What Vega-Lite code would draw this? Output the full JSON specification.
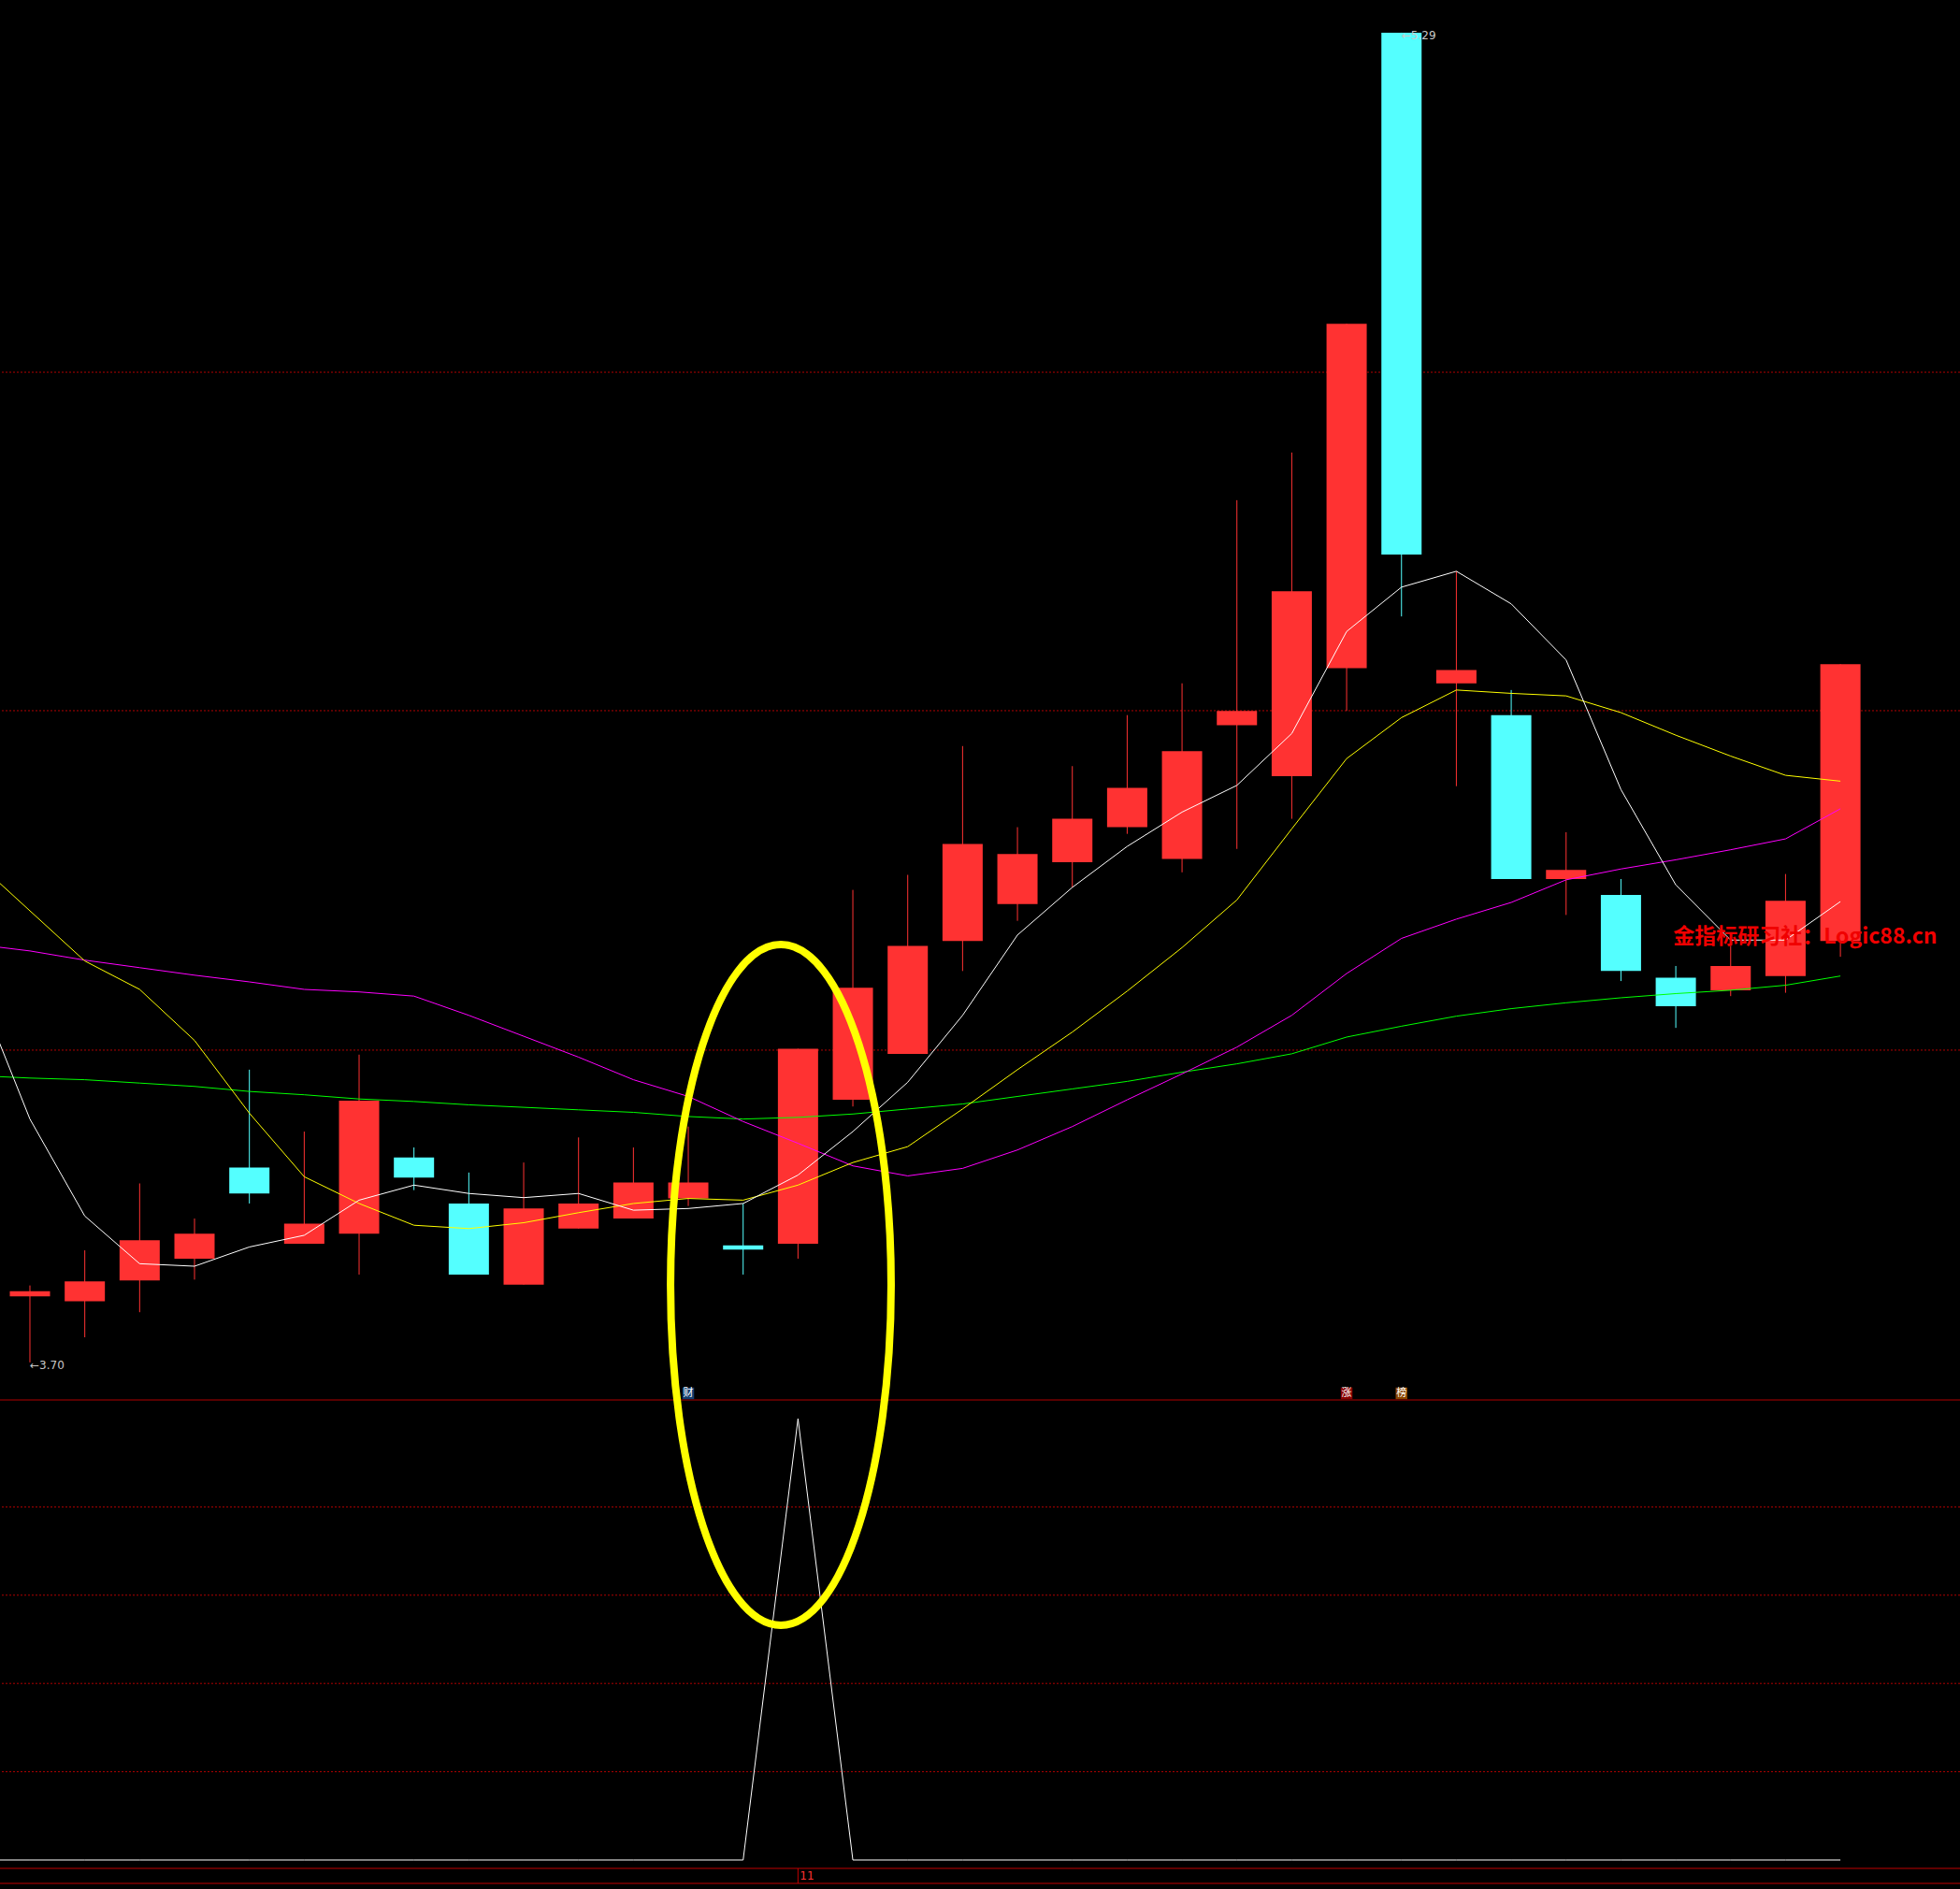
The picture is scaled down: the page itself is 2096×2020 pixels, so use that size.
{
  "$schema": "https://vega.github.io/schema/vega-lite/v6.json",
  "width": 2096,
  "height": 2020,
  "autosize": {"type": "none"},
  "padding": 0,
  "background": "#000000",
  "config": {"view": {"stroke": null}, "scale": {"continuousPadding": 0}},
  "datasets": {
    "candles": [
      {"i": 0, "o": 3.779, "h": 3.792, "l": 3.700, "c": 3.785},
      {"i": 1, "o": 3.773, "h": 3.834, "l": 3.730, "c": 3.797},
      {"i": 2, "o": 3.798, "h": 3.914, "l": 3.760, "c": 3.846},
      {"i": 3, "o": 3.824, "h": 3.872, "l": 3.799, "c": 3.854},
      {"i": 4, "o": 3.933, "h": 4.050, "l": 3.890, "c": 3.902},
      {"i": 5, "o": 3.842, "h": 3.976, "l": 3.842, "c": 3.866},
      {"i": 6, "o": 3.854, "h": 4.068, "l": 3.805, "c": 4.013},
      {"i": 7, "o": 3.945, "h": 3.957, "l": 3.906, "c": 3.921},
      {"i": 8, "o": 3.890, "h": 3.927, "l": 3.805, "c": 3.805},
      {"i": 9, "o": 3.793, "h": 3.939, "l": 3.793, "c": 3.884},
      {"i": 10, "o": 3.860, "h": 3.969, "l": 3.860, "c": 3.890},
      {"i": 11, "o": 3.872, "h": 3.957, "l": 3.872, "c": 3.915},
      {"i": 12, "o": 3.896, "h": 3.982, "l": 3.887, "c": 3.915},
      {"i": 13, "o": 3.840, "h": 3.890, "l": 3.805, "c": 3.835},
      {"i": 14, "o": 3.842, "h": 4.075, "l": 3.824, "c": 4.075},
      {"i": 15, "o": 4.014, "h": 4.265, "l": 4.006, "c": 4.148},
      {"i": 16, "o": 4.069, "h": 4.283, "l": 4.069, "c": 4.198},
      {"i": 17, "o": 4.204, "h": 4.437, "l": 4.168, "c": 4.320},
      {"i": 18, "o": 4.248, "h": 4.340, "l": 4.228, "c": 4.308},
      {"i": 19, "o": 4.298, "h": 4.413, "l": 4.268, "c": 4.350},
      {"i": 20, "o": 4.340, "h": 4.474, "l": 4.332, "c": 4.387},
      {"i": 21, "o": 4.302, "h": 4.512, "l": 4.286, "c": 4.431},
      {"i": 22, "o": 4.462, "h": 4.731, "l": 4.314, "c": 4.479},
      {"i": 23, "o": 4.401, "h": 4.788, "l": 4.350, "c": 4.622},
      {"i": 24, "o": 4.530, "h": 4.942, "l": 4.479, "c": 4.942},
      {"i": 25, "o": 5.290, "h": 5.290, "l": 4.592, "c": 4.666},
      {"i": 26, "o": 4.512, "h": 4.646, "l": 4.389, "c": 4.528},
      {"i": 27, "o": 4.474, "h": 4.504, "l": 4.278, "c": 4.278},
      {"i": 28, "o": 4.278, "h": 4.334, "l": 4.235, "c": 4.289},
      {"i": 29, "o": 4.259, "h": 4.278, "l": 4.156, "c": 4.168},
      {"i": 30, "o": 4.160, "h": 4.174, "l": 4.100, "c": 4.126},
      {"i": 31, "o": 4.145, "h": 4.198, "l": 4.138, "c": 4.174},
      {"i": 32, "o": 4.162, "h": 4.284, "l": 4.142, "c": 4.252},
      {"i": 33, "o": 4.204, "h": 4.535, "l": 4.185, "c": 4.535}
    ],
    "ma": [
      {"i": -1, "ma5": 4.155, "ma10": 4.300, "ma20": 4.200, "ma60": 4.043, "sig": 0},
      {"i": 0, "ma5": 3.991, "ma10": 4.240, "ma20": 4.192, "ma60": 4.040, "sig": 0},
      {"i": 1, "ma5": 3.875, "ma10": 4.180, "ma20": 4.181, "ma60": 4.038, "sig": 0},
      {"i": 2, "ma5": 3.818, "ma10": 4.146, "ma20": 4.172, "ma60": 4.034, "sig": 0},
      {"i": 3, "ma5": 3.815, "ma10": 4.085, "ma20": 4.163, "ma60": 4.030, "sig": 0},
      {"i": 4, "ma5": 3.838, "ma10": 3.998, "ma20": 4.155, "ma60": 4.024, "sig": 0},
      {"i": 5, "ma5": 3.852, "ma10": 3.922, "ma20": 4.146, "ma60": 4.020, "sig": 0},
      {"i": 6, "ma5": 3.894, "ma10": 3.890, "ma20": 4.143, "ma60": 4.015, "sig": 0},
      {"i": 7, "ma5": 3.912, "ma10": 3.864, "ma20": 4.138, "ma60": 4.012, "sig": 0},
      {"i": 8, "ma5": 3.902, "ma10": 3.860, "ma20": 4.115, "ma60": 4.008, "sig": 0},
      {"i": 9, "ma5": 3.897, "ma10": 3.867, "ma20": 4.090, "ma60": 4.005, "sig": 0},
      {"i": 10, "ma5": 3.902, "ma10": 3.879, "ma20": 4.065, "ma60": 4.002, "sig": 0},
      {"i": 11, "ma5": 3.882, "ma10": 3.890, "ma20": 4.038, "ma60": 3.999, "sig": 0},
      {"i": 12, "ma5": 3.884, "ma10": 3.896, "ma20": 4.018, "ma60": 3.994, "sig": 0},
      {"i": 13, "ma5": 3.890, "ma10": 3.894, "ma20": 3.988, "ma60": 3.991, "sig": 0},
      {"i": 14, "ma5": 3.924, "ma10": 3.912, "ma20": 3.962, "ma60": 3.993, "sig": 1},
      {"i": 15, "ma5": 3.976, "ma10": 3.939, "ma20": 3.935, "ma60": 3.997, "sig": 0},
      {"i": 16, "ma5": 4.035, "ma10": 3.958, "ma20": 3.923, "ma60": 4.003, "sig": 0},
      {"i": 17, "ma5": 4.115, "ma10": 4.003, "ma20": 3.932, "ma60": 4.009, "sig": 0},
      {"i": 18, "ma5": 4.211, "ma10": 4.050, "ma20": 3.954, "ma60": 4.018, "sig": 0},
      {"i": 19, "ma5": 4.268, "ma10": 4.095, "ma20": 3.982, "ma60": 4.027, "sig": 0},
      {"i": 20, "ma5": 4.317, "ma10": 4.144, "ma20": 4.014, "ma60": 4.036, "sig": 0},
      {"i": 21, "ma5": 4.358, "ma10": 4.196, "ma20": 4.045, "ma60": 4.047, "sig": 0},
      {"i": 22, "ma5": 4.390, "ma10": 4.253, "ma20": 4.077, "ma60": 4.057, "sig": 0},
      {"i": 23, "ma5": 4.452, "ma10": 4.338, "ma20": 4.115, "ma60": 4.069, "sig": 0},
      {"i": 24, "ma5": 4.574, "ma10": 4.422, "ma20": 4.165, "ma60": 4.089, "sig": 0},
      {"i": 25, "ma5": 4.627, "ma10": 4.471, "ma20": 4.207, "ma60": 4.102, "sig": 0},
      {"i": 26, "ma5": 4.646, "ma10": 4.504, "ma20": 4.230, "ma60": 4.114, "sig": 0},
      {"i": 27, "ma5": 4.607, "ma10": 4.500, "ma20": 4.250, "ma60": 4.123, "sig": 0},
      {"i": 28, "ma5": 4.540, "ma10": 4.497, "ma20": 4.277, "ma60": 4.130, "sig": 0},
      {"i": 29, "ma5": 4.385, "ma10": 4.477, "ma20": 4.290, "ma60": 4.136, "sig": 0},
      {"i": 30, "ma5": 4.271, "ma10": 4.450, "ma20": 4.301, "ma60": 4.141, "sig": 0},
      {"i": 31, "ma5": 4.205, "ma10": 4.425, "ma20": 4.313, "ma60": 4.145, "sig": 0},
      {"i": 32, "ma5": 4.205, "ma10": 4.402, "ma20": 4.326, "ma60": 4.151, "sig": 0},
      {"i": 33, "ma5": 4.251, "ma10": 4.395, "ma20": 4.362, "ma60": 4.162, "sig": 0}
    ],
    "extremes": [
      {"i": 0, "p": 3.70, "t": "←3.70"},
      {"i": 25, "p": 5.29, "t": "←5.29"}
    ],
    "badges": [
      {"i": 12, "t": "财"},
      {"i": 24, "t": "涨"},
      {"i": 25, "t": "榜"}
    ],
    "dates": [
      {"i": 14, "t": "11"}
    ],
    "one": [{}]
  },
  "layer": [
    {
      "layer": [
        {"data": {"name": "one"}, "mark": {"type": "rule", "color": "#b00000", "strokeWidth": 1, "strokeDash": [2, 2]},
         "encoding": {"y": {"datum": 4.884, "type": "quantitative", "scale": {"domain": [3.0703, 5.3291], "nice": false, "zero": false}, "axis": null}}},
        {"data": {"name": "one"}, "mark": {"type": "rule", "color": "#b00000", "strokeWidth": 1, "strokeDash": [2, 2]},
         "encoding": {"y": {"datum": 4.4793, "type": "quantitative", "scale": {"domain": [3.0703, 5.3291], "nice": false, "zero": false}, "axis": null}}},
        {"data": {"name": "one"}, "mark": {"type": "rule", "color": "#b00000", "strokeWidth": 1, "strokeDash": [2, 2]},
         "encoding": {"y": {"datum": 4.0734, "type": "quantitative", "scale": {"domain": [3.0703, 5.3291], "nice": false, "zero": false}, "axis": null}}},
        {"data": {"name": "one"}, "mark": {"type": "rule", "color": "#b00000", "strokeWidth": 1},
         "encoding": {"y": {"datum": 3.6551, "type": "quantitative", "scale": {"domain": [3.0703, 5.3291], "nice": false, "zero": false}, "axis": null}}},
        {"data": {"name": "candles"}, "mark": {"type": "rule", "strokeWidth": 1},
         "encoding": {
           "x": {"field": "i", "type": "quantitative", "scale": {"domain": [-0.5454, 35.18], "nice": false, "zero": false, "padding": 0}, "axis": null},
           "y": {"field": "l", "type": "quantitative", "scale": {"domain": [3.0703, 5.3291], "nice": false, "zero": false}, "axis": null},
           "y2": {"field": "h"},
           "color": {"condition": {"test": "datum.c >= datum.o", "value": "#ff3232"}, "value": "#54ffff"}
         }},
        {"data": {"name": "candles"}, "mark": {"type": "bar", "size": 43},
         "encoding": {
           "x": {"field": "i", "type": "quantitative", "scale": {"domain": [-0.5454, 35.18], "nice": false, "zero": false, "padding": 0}, "axis": null},
           "y": {"field": "o", "type": "quantitative", "scale": {"domain": [3.0703, 5.3291], "nice": false, "zero": false}, "axis": null},
           "y2": {"field": "c"},
           "color": {"condition": {"test": "datum.c >= datum.o", "value": "#ff3232"}, "value": "#54ffff"}
         }},
        {"data": {"name": "ma"}, "mark": {"type": "line", "color": "#00ff00", "strokeWidth": 1, "clip": true},
         "encoding": {
           "x": {"field": "i", "type": "quantitative", "scale": {"domain": [-0.5454, 35.18], "nice": false, "zero": false, "padding": 0}, "axis": null},
           "y": {"field": "ma60", "type": "quantitative", "scale": {"domain": [3.0703, 5.3291], "nice": false, "zero": false}, "axis": null}
         }},
        {"data": {"name": "ma"}, "mark": {"type": "line", "color": "#ff00ff", "strokeWidth": 1, "clip": true},
         "encoding": {
           "x": {"field": "i", "type": "quantitative", "scale": {"domain": [-0.5454, 35.18], "nice": false, "zero": false, "padding": 0}, "axis": null},
           "y": {"field": "ma20", "type": "quantitative", "scale": {"domain": [3.0703, 5.3291], "nice": false, "zero": false}, "axis": null}
         }},
        {"data": {"name": "ma"}, "mark": {"type": "line", "color": "#ffff00", "strokeWidth": 1, "clip": true},
         "encoding": {
           "x": {"field": "i", "type": "quantitative", "scale": {"domain": [-0.5454, 35.18], "nice": false, "zero": false, "padding": 0}, "axis": null},
           "y": {"field": "ma10", "type": "quantitative", "scale": {"domain": [3.0703, 5.3291], "nice": false, "zero": false}, "axis": null}
         }},
        {"data": {"name": "ma"}, "mark": {"type": "line", "color": "#ffffff", "strokeWidth": 1, "clip": true},
         "encoding": {
           "x": {"field": "i", "type": "quantitative", "scale": {"domain": [-0.5454, 35.18], "nice": false, "zero": false, "padding": 0}, "axis": null},
           "y": {"field": "ma5", "type": "quantitative", "scale": {"domain": [3.0703, 5.3291], "nice": false, "zero": false}, "axis": null}
         }},
        {"data": {"name": "extremes"}, "mark": {"type": "text", "align": "left", "baseline": "middle", "dy": 3, "font": "DejaVu Sans", "fontSize": 12, "color": "#c8c8c8"},
         "encoding": {
           "x": {"field": "i", "type": "quantitative", "scale": {"domain": [-0.5454, 35.18], "nice": false, "zero": false, "padding": 0}, "axis": null},
           "y": {"field": "p", "type": "quantitative", "scale": {"domain": [3.0703, 5.3291], "nice": false, "zero": false}, "axis": null},
           "text": {"field": "t"}
         }},
        {"data": {"name": "badges"}, "mark": {"type": "point", "shape": "square", "filled": true, "size": 156, "opacity": 1},
         "encoding": {
           "x": {"field": "i", "type": "quantitative", "scale": {"domain": [-0.5454, 35.18], "nice": false, "zero": false, "padding": 0}, "axis": null},
           "y": {"datum": 3.663, "type": "quantitative", "scale": {"domain": [3.0703, 5.3291], "nice": false, "zero": false}, "axis": null},
           "color": {"field": "t", "type": "nominal", "scale": {"domain": ["财", "涨", "榜"], "range": ["#123e70", "#8a0000", "#8a4500"]}, "legend": null}
         }},
        {"data": {"name": "badges"}, "mark": {"type": "text", "align": "center", "baseline": "middle", "font": "Noto Sans CJK SC", "fontSize": 11, "color": "#ffffff"},
         "encoding": {
           "x": {"field": "i", "type": "quantitative", "scale": {"domain": [-0.5454, 35.18], "nice": false, "zero": false, "padding": 0}, "axis": null},
           "y": {"datum": 3.663, "type": "quantitative", "scale": {"domain": [3.0703, 5.3291], "nice": false, "zero": false}, "axis": null},
           "text": {"field": "t"}
         }},
        {"data": {"name": "one"}, "mark": {"type": "text", "align": "left", "baseline": "middle", "font": "Noto Sans CJK SC", "fontWeight": "bold", "fontSize": 23, "color": "#f00000", "text": "金指标研习社：Logic88.cn"},
         "encoding": {
           "x": {"datum": 29.95, "type": "quantitative", "scale": {"domain": [-0.5454, 35.18], "nice": false, "zero": false, "padding": 0}, "axis": null},
           "y": {"datum": 4.209, "type": "quantitative", "scale": {"domain": [3.0703, 5.3291], "nice": false, "zero": false}, "axis": null}
         }}
      ]
    },
    {
      "layer": [
        {"data": {"name": "one"}, "mark": {"type": "rule", "color": "#b00000", "strokeWidth": 1, "strokeDash": [2, 2]},
         "encoding": {"y": {"datum": 0.8, "type": "quantitative", "scale": {"domain": [-0.06568, 4.214], "nice": false, "zero": false}, "axis": null}}},
        {"data": {"name": "one"}, "mark": {"type": "rule", "color": "#b00000", "strokeWidth": 1, "strokeDash": [2, 2]},
         "encoding": {"y": {"datum": 0.6, "type": "quantitative", "scale": {"domain": [-0.06568, 4.214], "nice": false, "zero": false}, "axis": null}}},
        {"data": {"name": "one"}, "mark": {"type": "rule", "color": "#b00000", "strokeWidth": 1, "strokeDash": [2, 2]},
         "encoding": {"y": {"datum": 0.4, "type": "quantitative", "scale": {"domain": [-0.06568, 4.214], "nice": false, "zero": false}, "axis": null}}},
        {"data": {"name": "one"}, "mark": {"type": "rule", "color": "#b00000", "strokeWidth": 1, "strokeDash": [2, 2]},
         "encoding": {"y": {"datum": 0.2, "type": "quantitative", "scale": {"domain": [-0.06568, 4.214], "nice": false, "zero": false}, "axis": null}}},
        {"data": {"name": "one"}, "mark": {"type": "rule", "color": "#c00000", "strokeWidth": 1},
         "encoding": {"y": {"datum": -0.019, "type": "quantitative", "scale": {"domain": [-0.06568, 4.214], "nice": false, "zero": false}, "axis": null}}},
        {"data": {"name": "one"}, "mark": {"type": "rule", "color": "#c00000", "strokeWidth": 1},
         "encoding": {"y": {"datum": -0.053, "type": "quantitative", "scale": {"domain": [-0.06568, 4.214], "nice": false, "zero": false}, "axis": null}}},
        {"data": {"name": "dates"}, "mark": {"type": "rule", "color": "#c00000", "strokeWidth": 1},
         "encoding": {
           "x": {"field": "i", "type": "quantitative", "scale": {"domain": [-0.5454, 35.18], "nice": false, "zero": false, "padding": 0}, "axis": null},
           "y": {"datum": -0.019, "type": "quantitative", "scale": {"domain": [-0.06568, 4.214], "nice": false, "zero": false}, "axis": null},
           "y2": {"datum": -0.053}
         }},
        {"data": {"name": "dates"}, "mark": {"type": "text", "align": "left", "baseline": "middle", "dx": 2, "font": "DejaVu Sans", "fontSize": 12, "color": "#ff3232"},
         "encoding": {
           "x": {"field": "i", "type": "quantitative", "scale": {"domain": [-0.5454, 35.18], "nice": false, "zero": false, "padding": 0}, "axis": null},
           "y": {"datum": -0.036, "type": "quantitative", "scale": {"domain": [-0.06568, 4.214], "nice": false, "zero": false}, "axis": null},
           "text": {"field": "t"}
         }},
        {"data": {"name": "ma"}, "mark": {"type": "line", "color": "#ffffff", "strokeWidth": 1, "clip": true},
         "encoding": {
           "x": {"field": "i", "type": "quantitative", "scale": {"domain": [-0.5454, 35.18], "nice": false, "zero": false, "padding": 0}, "axis": null},
           "y": {"field": "sig", "type": "quantitative", "scale": {"domain": [-0.06568, 4.214], "nice": false, "zero": false}, "axis": null}
         }}
      ]
    },
    {
      "data": {"name": "one"},
      "mark": {"type": "point", "shape": "M0,-1C0.179,-1,0.324,-0.5523,0.324,0C0.324,0.5523,0.179,1,0,1C-0.179,1,-0.324,0.5523,-0.324,0C-0.324,-0.5523,-0.179,-1,0,-1Z", "filled": false, "size": 529984, "strokeWidth": 8, "color": "#ffff00", "opacity": 1},
      "encoding": {
        "x": {"datum": 13.687, "type": "quantitative", "scale": {"domain": [-0.5454, 35.18], "nice": false, "zero": false, "padding": 0}, "axis": null},
        "y": {"datum": 3.7927, "type": "quantitative", "scale": {"domain": [3.0703, 5.3291], "nice": false, "zero": false}, "axis": null}
      }
    }
  ],
  "resolve": {"scale": {"y": "independent"}}
}
